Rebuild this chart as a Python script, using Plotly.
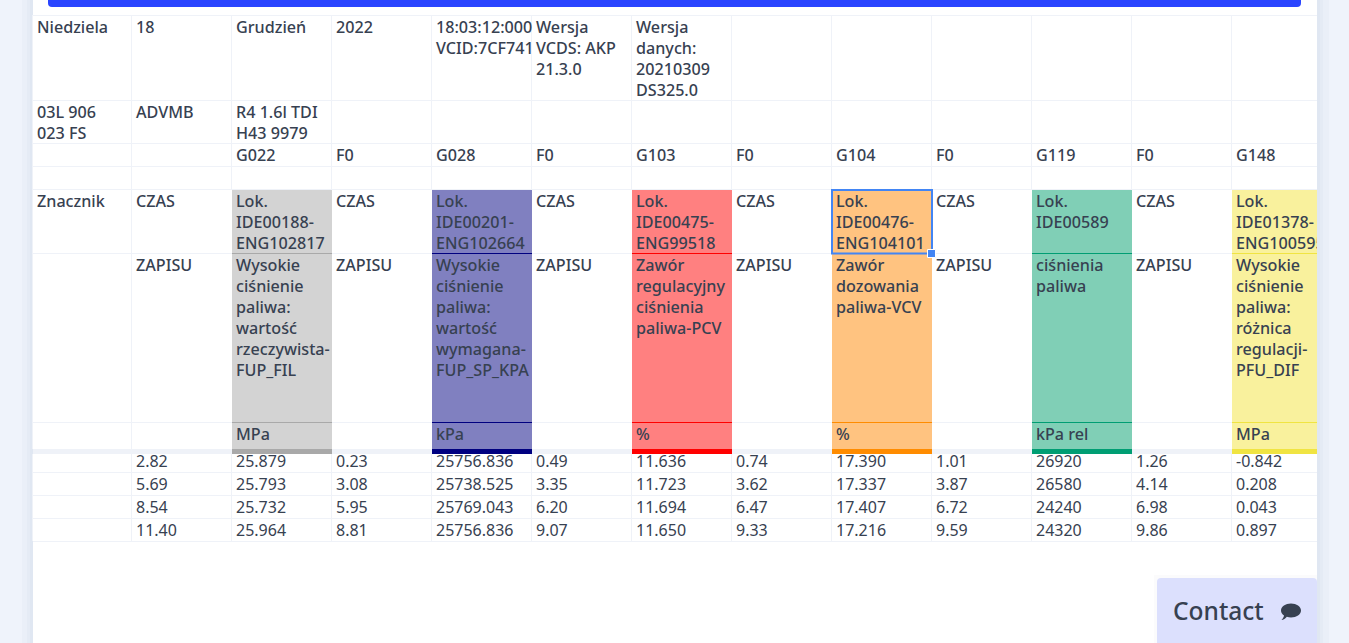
import plotly.graph_objects as go

# grid geometry of the sheet, in page pixels
col_edges = [33, 132, 232, 332, 432, 532, 632, 732, 832, 932, 1032, 1132, 1232, 1332]
row_edges = [15, 100, 143, 166, 189, 253, 422, 449, 454, 472, 495, 518, 541]

info_rows = [
    ["Niedziela", "18", "Grudzień", "2022", "18:03:12:000<br>VCID:7CF741", "Wersja<br>VCDS: AKP<br>21.3.0",
     "Wersja<br>danych:<br>20210309<br>DS325.0"],
    ["03L 906<br>023 FS", "ADVMB", "R4 1.6l TDI<br>H43 9979"],
    ["", "", "G022", "F0", "G028", "F0", "G103", "F0", "G104", "F0", "G119", "F0", "G148"],
    [],
    ["Znacznik", "CZAS", "Lok.<br>IDE00188-<br>ENG102817", "CZAS", "Lok.<br>IDE00201-<br>ENG102664", "CZAS",
     "Lok.<br>IDE00475-<br>ENG99518", "CZAS", "Lok.<br>IDE00476-<br>ENG104101", "CZAS", "Lok.<br>IDE00589", "CZAS",
     "Lok.<br>IDE01378-<br>ENG100595"],
    ["", "ZAPISU", "Wysokie<br>ciśnienie<br>paliwa:<br>wartość<br>rzeczywista-<br>FUP_FIL", "ZAPISU",
     "Wysokie<br>ciśnienie<br>paliwa:<br>wartość<br>wymagana-<br>FUP_SP_KPA", "ZAPISU",
     "Zawór<br>regulacyjny<br>ciśnienia<br>paliwa-PCV", "ZAPISU", "Zawór<br>dozowania<br>paliwa-VCV", "ZAPISU",
     "ciśnienia<br>paliwa", "ZAPISU",
     "Wysokie<br>ciśnienie<br>paliwa:<br>różnica<br>regulacji-<br>PFU_DIF"],
    ["", "", "MPa", "", "kPa", "", "%", "", "%", "", "kPa rel", "", "MPa"],
]

czas_g022 = ["2.82", "5.69", "8.54", "11.40"]
g022 = ["25.879", "25.793", "25.732", "25.964"]
czas_g028 = ["0.23", "3.08", "5.95", "8.81"]
g028 = ["25756.836", "25738.525", "25769.043", "25756.836"]
czas_g103 = ["0.49", "3.35", "6.20", "9.07"]
g103 = ["11.636", "11.723", "11.694", "11.650"]
czas_g104 = ["0.74", "3.62", "6.47", "9.33"]
g104 = ["17.390", "17.337", "17.407", "17.216"]
czas_g119 = ["1.01", "3.87", "6.72", "9.59"]
g119 = ["26920", "26580", "24240", "24320"]
czas_g148 = ["1.26", "4.14", "6.98", "9.86"]
g148 = ["-0.842", "0.208", "0.043", "0.897"]
data_cols = [["", "", "", ""], czas_g022, g022, czas_g028, g028, czas_g103, g103, czas_g104, g104,
             czas_g119, g119, czas_g148, g148]

# filled column -> (light fill, strong edge)
fill_cols = {
    2: ("#d3d3d3", "#a9a9a9"),
    4: ("#8080c0", "#000080"),
    6: ("#ff8080", "#ff0000"),
    8: ("#ffc380", "#ff8c00"),
    10: ("#80cfb6", "#009e73"),
    12: ("#f9f19d", "#f0e442"),
}

TEXT = "#374151"
GRID = "#eff2f8"
PAGE = "#eff3fb"
FONT = "Noto Sans"

# heatmap cell colours: 0 white, 1 band grey, then light/strong per filled column
colors = ["#ffffff", GRID]
for light, strong in fill_cols.values():
    colors += [light, strong]
scale = []
for i, c in enumerate(colors):
    scale += [[i / len(colors), c], [(i + 1) / len(colors), c]]

n_rows = len(row_edges) - 1
n_cols = len(col_edges) - 1
z = [[0] * n_cols for _ in range(n_rows)]
z[7] = [1] * n_cols
for k, col in enumerate(fill_cols):
    for r in range(4, 7):
        z[r][col] = 2 + 2 * k
    z[7][col] = 3 + 2 * k

fig = go.Figure()
fig.add_trace(go.Heatmap(x=col_edges, y=row_edges, z=z, colorscale=scale, zmin=0, zmax=len(colors),
                         showscale=False, hoverinfo="skip"))

# grid lines, left out where a filled column covers them
gx, gy = [], []
for r, y in enumerate(row_edges):
    if r == 8:
        continue
    for c in range(n_cols):
        if c in fill_cols and 5 <= r <= 7:
            continue
        gx += [col_edges[c], col_edges[c + 1], None]
        gy += [y + 0.5, y + 0.5, None]
for c, x in enumerate(col_edges[:-1]):
    for r in range(n_rows):
        if r == 7 or (4 <= r <= 6 and (c in fill_cols or c - 1 in fill_cols)):
            continue
        gx += [x - 0.5, x - 0.5, None]
        gy += [row_edges[r], row_edges[r + 1], None]
fig.add_trace(go.Scatter(x=gx, y=gy, mode="lines", line=dict(color=GRID, width=1), hoverinfo="skip"))

# strong lines inside the filled columns
for col, (light, strong) in fill_cols.items():
    ex, ey = [], []
    for r in (5, 6):
        ex += [col_edges[col], col_edges[col + 1], None]
        ey += [row_edges[r] + 0.5, row_edges[r] + 0.5, None]
    fig.add_trace(go.Scatter(x=ex, y=ey, mode="lines", line=dict(color=strong, width=1), hoverinfo="skip"))

# header text
tx, ty, tt = [], [], []
for r, row in enumerate(info_rows):
    for c, cell in enumerate(row):
        if cell:
            tx.append(col_edges[c] + 4)
            ty.append(row_edges[r] + 6)
            tt.append(cell)
fig.add_trace(go.Scatter(x=tx, y=ty, text=tt, mode="text", textposition="bottom right", hoverinfo="skip",
                         cliponaxis=False,
                         textfont=dict(family=FONT, size=16.15, color=TEXT, weight=550)))

# logged values
dx, dy, dt = [], [], []
for c, values in enumerate(data_cols):
    for i, v in enumerate(values):
        if v:
            dx.append(col_edges[c] + 4)
            dy.append(row_edges[8 + i] + (1 if i == 0 else 6))
            dt.append(v)
fig.add_trace(go.Scatter(x=dx, y=dy, text=dt, mode="text", textposition="bottom right", hoverinfo="skip",
                         cliponaxis=False,
                         textfont=dict(family=FONT, size=16, color=TEXT, weight=400)))

# contact button label
fig.add_trace(go.Scatter(x=[1173], y=[614], text=["Contact"], mode="text", textposition="middle right",
                         hoverinfo="skip", cliponaxis=False,
                         textfont=dict(family=FONT, size=24.5, color=TEXT, weight=500)))

shadow = "rgba(60,70,120,0.025)"
shapes = [
    # panel shadow and panel, under the sheet
    dict(type="rect", x0=22, x1=33, y0=0, y1=643, fillcolor=shadow, line_width=0, layer="below"),
    dict(type="rect", x0=27, x1=33, y0=0, y1=643, fillcolor=shadow, line_width=0, layer="below"),
    dict(type="rect", x0=30, x1=33, y0=0, y1=643, fillcolor=shadow, line_width=0, layer="below"),
    dict(type="rect", x0=33, x1=1317, y0=0, y1=643, fillcolor="#ffffff", line_width=0, layer="below"),
    # contact button, under its label
    dict(type="rect", x0=1154, x1=1317, y0=575, y1=643, fillcolor="rgba(60,70,120,0.02)", line_width=0, layer="below"),
    dict(type="path", path="M 1157 643 L 1157 582 Q 1157 578 1161 578 L 1313 578 Q 1317 578 1317 582 L 1317 643 Z",
         fillcolor="#dce0fd", line_width=0, layer="below"),
    # blue progress bar
    dict(type="path", path="M 48 0 L 1301 0 L 1301 3 Q 1301 7 1297 7 L 52 7 Q 48 7 48 3 Z",
         fillcolor="#2a45ff", line_width=0, layer="above"),
    # page margin cuts off the last column
    dict(type="rect", x0=1317, x1=1349, y0=0, y1=643, fillcolor=PAGE, line_width=0, layer="above"),
    dict(type="rect", x0=1317, x1=1329, y0=0, y1=643, fillcolor=shadow, line_width=0, layer="above"),
    dict(type="rect", x0=1317, x1=1323, y0=0, y1=643, fillcolor=shadow, line_width=0, layer="above"),
    dict(type="rect", x0=1317, x1=1320, y0=0, y1=643, fillcolor=shadow, line_width=0, layer="above"),
    # selected cell
    dict(type="rect", x0=832, x1=932, y0=190, y1=253.5, line=dict(color="#4285f4", width=2), layer="above"),
    dict(type="rect", x0=927.5, x1=935.5, y0=249.5, y1=257.5, fillcolor="#4285f4", line=dict(color="#ffffff", width=1),
         layer="above"),
    # speech bubble
    dict(type="path",
         path="M 1291 603.5 C 1296.5 603.5 1301 606.5 1301 610.5 C 1301 614.5 1296.5 617.5 1291 617.5 C 1289.5 617.5 "
              "1288 617.3 1286.8 616.8 C 1285.5 618.5 1283.5 620 1281.5 620 C 1282.8 618.8 1283.8 617 1284 615.5 "
              "C 1282.2 614.2 1281 612.5 1281 610.5 C 1281 606.5 1285.5 603.5 1291 603.5 Z",
         fillcolor=TEXT, line_width=0, layer="above"),
]

fig.update_layout(
    width=1349,
    height=643,
    margin=dict(l=0, r=0, t=0, b=0),
    paper_bgcolor=PAGE,
    plot_bgcolor="rgba(0,0,0,0)",
    showlegend=False,
    shapes=shapes,
    xaxis=dict(range=[0, 1349], visible=False, fixedrange=True),
    yaxis=dict(range=[643, 0], visible=False, fixedrange=True),
)

fig.write_html("out.html", config={"displayModeBar": False},
               post_script="document.body.style.margin='0';document.body.style.overflow='hidden';")
